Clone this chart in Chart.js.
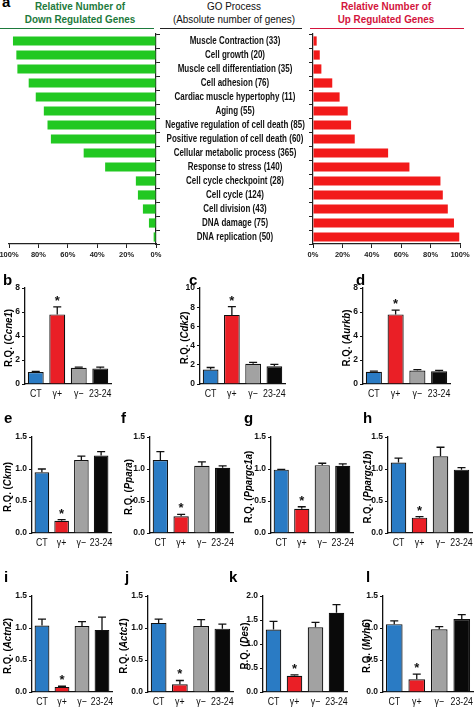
<!DOCTYPE html>
<html>
<head>
<meta charset="utf-8">
<script src="https://cdn.jsdelivr.net/npm/chart.js@4.4.1/dist/chart.umd.min.js"></script>
<style>
  body { margin: 0; width: 474px; height: 709px; background: #fff; position: relative; overflow: hidden; font-family: 'Liberation Sans', Arial, sans-serif; }
  canvas { position: absolute; }
  .txt { position: absolute; white-space: nowrap; }
  .letter { font-weight: bold; font-size: 15px; line-height: 15px; }
  .head { font-weight: bold; font-size: 11.5px; line-height: 13px; text-align: center; transform: translateX(-50%) scaleX(0.86); }
  .rule { position: absolute; height: 0; }
  .ytitle { font-weight: bold; font-size: 11px; transform: translate(-50%, -50%) rotate(-90deg) scaleX(0.88); }
</style>
</head>
<body>
<script>
// --- Panel a: GO processes ---
const goLabels = [
  "Muscle Contraction (33)", "Cell growth (20)", "Muscle cell differentiation (35)", "Cell adhesion (76)",
  "Cardiac muscle hypertophy (11)", "Aging (55)", "Negative regulation of cell death (85)",
  "Positive regulation of cell death (60)", "Cellular metabolic process (365)", "Response to stress (140)",
  "Cell cycle checkpoint (28)", "Cell cycle (124)", "Cell division (43)", "DNA damage (75)", "DNA replication (50)"
];
const downPct = [97.3, 95.0, 94.3, 86.6, 81.8, 76.3, 73.8, 71.5, 49.2, 34.6, 13.7, 12.3, 8.9, 4.8, 1.6];
const upPct = [2.5, 4.6, 5.7, 13.1, 18.1, 23.6, 25.9, 28.4, 51.1, 65.6, 86.7, 88.3, 91.7, 95.9, 99.5];

// --- Panels b-l: qPCR ---
const groups = ["CT", "γ+", "γ−", "23-24"];
const ccne1Rq = [1.0, 5.8, 1.35, 1.3];       const ccne1Err = [0.05, 0.62, 0.06, 0.1];
const cdk2Rq = [1.5, 7.2, 2.1, 1.85];        const cdk2Err = [0.22, 0.85, 0.15, 0.2];
const aurkbRq = [1.02, 5.8, 1.12, 1.07];     const aurkbErr = [0.05, 0.36, 0.07, 0.06];
const ckmRq = [0.95, 0.19, 1.14, 1.21];      const ckmErr = [0.05, 0.02, 0.06, 0.06];
const pparaRq = [1.14, 0.26, 1.05, 1.02];    const pparaErr = [0.13, 0.03, 0.06, 0.03];
const ppargc1aRq = [0.99, 0.38, 1.06, 1.05]; const ppargc1aErr = [0.005, 0.03, 0.03, 0.03];
const ppargc1bRq = [1.10, 0.24, 1.20, 0.99]; const ppargc1bErr = [0.07, 0.015, 0.14, 0.03];
const actn2Rq = [1.04, 0.08, 1.03, 0.97];    const actn2Err = [0.1, 0.01, 0.07, 0.2];
const actc1Rq = [1.08, 0.12, 1.03, 0.99];    const actc1Err = [0.06, 0.06, 0.1, 0.07];
const desRq = [1.3, 0.34, 1.35, 1.65];       const desErr = [0.17, 0.015, 0.1, 0.17];
const myh6Rq = [1.06, 0.2, 0.98, 1.14];      const myh6Err = [0.05, 0.08, 0.04, 0.07];

const groupColors = ["#2a7bc4", "#ea1f26", "#a2a2a2", "#0a0a0a"];
const sans = "'Liberation Sans', Arial, sans-serif";

// panel layout (page pixels of the plot area)
const panels = [
  { letter: "b", gene: "Ccne1", rq: ccne1Rq, err: ccne1Err, max: 8, step: 2, left: 25, right: 111, top: 288, bottom: 384, titleX: 8, lx: 3, ly: 285 },
  { letter: "c", gene: "Cdk2", rq: cdk2Rq, err: cdk2Err, max: 10, step: 2, left: 200, right: 285, top: 288, bottom: 384, titleX: 184, lx: 189, ly: 285 },
  { letter: "d", gene: "Aurkb", rq: aurkbRq, err: aurkbErr, max: 8, step: 2, left: 363, right: 450, top: 288, bottom: 384, titleX: 346, lx: 356, ly: 285 },
  { letter: "e", gene: "Ckm", rq: ckmRq, err: ckmErr, max: 1.5, step: 0.5, left: 32, right: 111, top: 437, bottom: 533, titleX: 7, lx: 4, ly: 423 },
  { letter: "f", gene: "Ppara", rq: pparaRq, err: pparaErr, max: 1.5, step: 0.5, left: 150, right: 233, top: 437, bottom: 533, titleX: 128, lx: 121, ly: 423 },
  { letter: "g", gene: "Ppargc1a", rq: ppargc1aRq, err: ppargc1aErr, max: 1.5, step: 0.5, left: 271, right: 353, top: 437, bottom: 533, titleX: 248, lx: 244, ly: 423 },
  { letter: "h", gene: "Ppargc1b", rq: ppargc1bRq, err: ppargc1bErr, max: 1.5, step: 0.5, left: 388, right: 472, top: 437, bottom: 533, titleX: 367, lx: 363, ly: 423 },
  { letter: "i", gene: "Actn2", rq: actn2Rq, err: actn2Err, max: 1.5, step: 0.5, left: 32, right: 112, top: 596, bottom: 692, titleX: 7, lx: 4, ly: 582 },
  { letter: "j", gene: "Actc1", rq: actc1Rq, err: actc1Err, max: 1.5, step: 0.5, left: 148, right: 233, top: 596, bottom: 692, titleX: 123, lx: 125, ly: 582 },
  { letter: "k", gene: "Des", rq: desRq, err: desErr, max: 2.0, step: 0.5, left: 263, right: 347, top: 596, bottom: 692, titleX: 244, lx: 229, ly: 582 },
  { letter: "l", gene: "Myh6", rq: myh6Rq, err: myh6Err, max: 1.5, step: 0.5, left: 383, right: 473, top: 596, bottom: 692, titleX: 366, lx: 366, ly: 582 }
];

function addCanvas(left, top, w, h) {
  const cv = document.createElement("canvas");
  cv.width = w; cv.height = h;
  cv.style.left = left + "px"; cv.style.top = top + "px";
  cv.style.width = w + "px"; cv.style.height = h + "px";
  document.body.appendChild(cv);
  return cv;
}

function addText(cls, html, left, top, color) {
  const d = document.createElement("div");
  d.className = "txt " + cls;
  d.innerHTML = html;
  d.style.left = left + "px"; d.style.top = top + "px";
  if (color) d.style.color = color;
  document.body.appendChild(d);
  return d;
}

function addRule(x1, x2, y, color) {
  const d = document.createElement("div");
  d.className = "rule";
  d.style.left = x1 + "px"; d.style.top = y + "px"; d.style.width = (x2 - x1) + "px";
  d.style.borderTop = "1.5px solid " + color;
  document.body.appendChild(d);
}

// category labels drawn horizontally condensed (the figure uses a narrow face)
const squeezedTicks = {
  id: "squeezedTicks",
  afterDraw(chart, args, o) {
    const sc = chart.scales[o.axis];
    const ctx = chart.ctx;
    ctx.save();
    ctx.font = o.font;
    ctx.fillStyle = o.color;
    ctx.textAlign = "center";
    ctx.textBaseline = "middle";
    chart.data.labels.forEach((lab, i) => {
      const p = sc.getPixelForTick(i);
      const x = o.axis === "x" ? p : o.at;
      const y = o.axis === "x" ? chart.chartArea.bottom + o.at : p;
      ctx.save();
      ctx.translate(x, y);
      ctx.scale(o.squeeze, 1);
      ctx.fillText(lab, 0, 0);
      ctx.restore();
    });
    ctx.restore();
  }
};

// error bars (upper only) + asterisk above the γ+ bar
const errStar = {
  id: "errStar",
  afterDatasetsDraw(chart) {
    const ds = chart.data.datasets[0];
    const meta = chart.getDatasetMeta(0);
    const ys = chart.scales.y;
    const ctx = chart.ctx;
    ctx.save();
    ctx.strokeStyle = "#111";
    ctx.lineWidth = 1.3;
    ctx.fillStyle = "#111";
    ctx.font = "bold 13px " + sans;
    ctx.textAlign = "center";
    ctx.textBaseline = "alphabetic";
    meta.data.forEach((bar, i) => {
      const y0 = ys.getPixelForValue(ds.data[i]);
      const y1 = ys.getPixelForValue(ds.data[i] + ds.errors[i]);
      ctx.beginPath();
      ctx.moveTo(bar.x, y0); ctx.lineTo(bar.x, y1);
      ctx.moveTo(bar.x - 4, y1); ctx.lineTo(bar.x + 4, y1);
      ctx.stroke();
      if (i === 1) ctx.fillText("*", bar.x, y1 - 2);
    });
    ctx.restore();
  }
};

// --- panel a ---
addText("letter", "a", 2, -6);
addText("head", "Relative Number of<br>Down Regulated Genes", 80, 0, "#1d7a3c");
addText("head", "<span style='font-weight:normal'>GO Process<br>(Absolute number of genes)</span>", 234, 0, "#111");
addText("head", "Relative Number of<br>Up Regulated Genes", 386, 0, "#d3143c");
addRule(0, 154, 28, "#1d7a3c");
addRule(160, 302, 28, "#222");
addRule(310, 464, 28, "#d3143c");

const pctAxis = (reverse) => ({
  min: 0, max: 100, reverse: reverse,
  ticks: { stepSize: 20, callback: v => v + "%", font: { family: sans, size: 7.5, weight: "bold" }, color: "#222", padding: 2, maxRotation: 0 },
  grid: { drawOnChartArea: false, tickLength: 4, color: "#222" },
  border: { color: "#222", width: 1.2 },
  afterFit: s => { s.height = 20; s.paddingLeft = 0; s.paddingRight = 0; }
});

new Chart(addCanvas(0, 0, 310, 264), {
  type: "bar",
  data: { labels: goLabels, datasets: [{ data: downPct, backgroundColor: "#22c822", barPercentage: 0.66, categoryPercentage: 1 }] },
  options: {
    indexAxis: "y", responsive: false, animation: false,
    layout: { padding: { top: 34, left: 9, right: 0, bottom: 0 } },
    plugins: {
      legend: { display: false }, tooltip: { enabled: false },
      squeezedTicks: { axis: "y", at: 235, squeeze: 0.8, font: "bold 10px " + sans, color: "#111" }
    },
    scales: {
      x: pctAxis(true),
      y: {
        position: "right",
        ticks: { display: false },
        grid: { drawOnChartArea: false, tickLength: 4, color: "#222" },
        border: { color: "#222", width: 1.2 },
        afterFit: s => { s.width = 154; s.paddingTop = 0; s.paddingBottom = 0; }
      }
    }
  },
  plugins: [squeezedTicks]
});

new Chart(addCanvas(300, 0, 174, 264), {
  type: "bar",
  data: { labels: goLabels, datasets: [{ data: upPct, backgroundColor: "#f21a1a", barPercentage: 0.66, categoryPercentage: 1 }] },
  options: {
    indexAxis: "y", responsive: false, animation: false,
    layout: { padding: { top: 34, left: 0, right: 14, bottom: 0 } },
    plugins: { legend: { display: false }, tooltip: { enabled: false } },
    scales: {
      x: pctAxis(false),
      y: {
        position: "left",
        ticks: { display: false },
        grid: { drawOnChartArea: false, tickLength: 4, color: "#222" },
        border: { color: "#222", width: 1.2 },
        afterFit: s => { s.width = 13; s.paddingTop = 0; s.paddingBottom = 0; }
      }
    }
  }
});

// --- panels b-l ---
panels.forEach(p => {
  const w = p.right - p.left + 34, h = p.bottom - p.top + 32;
  new Chart(addCanvas(p.left - 30, p.top - 12, w, h), {
    type: "bar",
    data: { labels: groups, datasets: [{ data: p.rq, errors: p.err, backgroundColor: groupColors, borderColor: "#111", borderWidth: 1.2, barPercentage: 0.74, categoryPercentage: 1 }] },
    options: {
      responsive: false, animation: false,
      layout: { padding: { top: 12, right: 4, left: 0, bottom: 0 } },
      plugins: {
        legend: { display: false }, tooltip: { enabled: false },
        squeezedTicks: { axis: "x", at: 10, squeeze: 0.8, font: "11px " + sans, color: "#111" }
      },
      scales: {
        x: {
          grid: { display: false, drawTicks: false },
          border: { color: "#111", width: 1.3 },
          ticks: { display: false },
          afterFit: s => { s.height = 20; s.paddingLeft = 0; s.paddingRight = 0; }
        },
        y: {
          min: 0, max: p.max,
          ticks: { stepSize: p.step, callback: v => p.step < 1 ? v.toFixed(1) : v, font: { family: sans, size: 8.5, weight: "bold" }, color: "#111", padding: 2 },
          grid: { drawOnChartArea: false, tickLength: 3, color: "#111" },
          border: { color: "#111", width: 1.3 },
          afterFit: s => { s.width = 30; s.paddingTop = 0; s.paddingBottom = 0; }
        }
      }
    },
    plugins: [errStar, squeezedTicks]
  });
  addText("letter", p.letter, p.lx, p.ly - 13);
  addText("ytitle", "R.Q. (<i>" + p.gene + "</i>)", p.titleX, (p.top + p.bottom) / 2 + 2);
});
</script>
</body>
</html>
